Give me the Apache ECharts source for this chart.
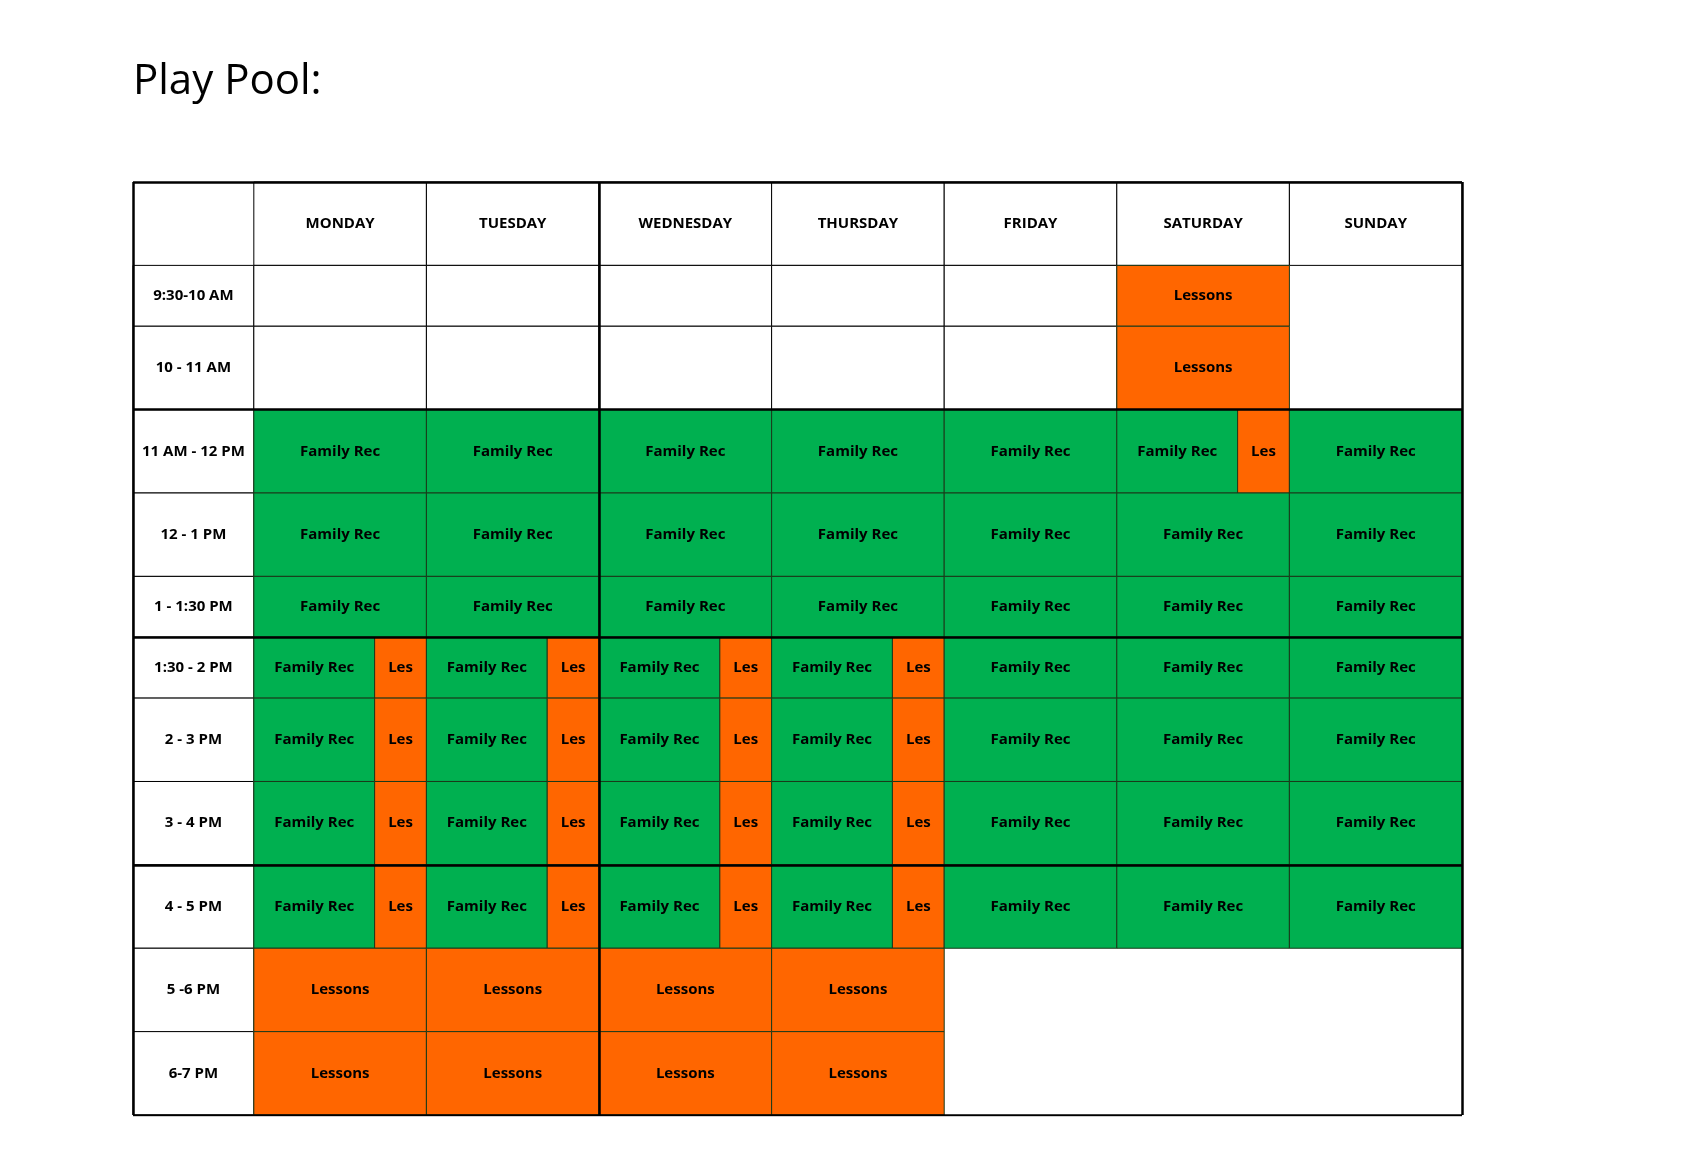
<!DOCTYPE html>
<html>
<head>
<meta charset="utf-8">
<script src="https://cdn.jsdelivr.net/npm/echarts@6/dist/echarts.min.js"></script>
<style>html,body{margin:0;background:#fff}#chart{width:1700px;height:1158px}</style>
</head>
<body>
<div id="chart"></div>
<script>
var days = ['MONDAY', 'TUESDAY', 'WEDNESDAY', 'THURSDAY', 'FRIDAY', 'SATURDAY', 'SUNDAY'];
var times = ['9:30-10 AM', '10 - 11 AM', '11 AM - 12 PM', '12 - 1 PM', '1 - 1:30 PM', '1:30 - 2 PM',
             '2 - 3 PM', '3 - 4 PM', '4 - 5 PM', '5 -6 PM', '6-7 PM'];
// E = empty cell, F = Family Rec, L = Lessons, FL = Family Rec + Les, '' = no cell
var monThu = ['E', 'E', 'F', 'F', 'F', 'FL', 'FL', 'FL', 'FL', 'L', 'L'];
var friday = ['E', 'E', 'F', 'F', 'F', 'F', 'F', 'F', 'F', '', ''];
var saturday = ['L', 'L', 'FL', 'F', 'F', 'F', 'F', 'F', 'F', '', ''];
var sunday = ['', '', 'F', 'F', 'F', 'F', 'F', 'F', 'F', '', ''];
var schedule = [monThu, monThu, monThu, monThu, friday, saturday, sunday];

// layout (axis units)
var colEdges = [0, 0.7];
for (var i = 1; i <= 7; i++) colEdges.push(0.7 + i);
var rowH = [1, 0.73, 0.73, 1, 1, 1, 0.73, 0.73, 1, 1, 1, 1, 1];
rowH = [1, 0.73, 1, 1, 1, 0.73, 0.73, 1, 1, 1, 1, 1];
var rowEdges = [0];
rowH.forEach(function (h) { rowEdges.push(rowEdges[rowEdges.length - 1] + h); });

var GREEN = '#00B050', ORANGE = '#FF6600';
var cells = [];
days.forEach(function (d, c) { cells.push([c + 1, 0, d, 'H']); });
times.forEach(function (t, r) { cells.push([0, r + 1, t, 'T']); });
schedule.forEach(function (col, c) {
  col.forEach(function (k, r) { if (k) cells.push([c + 1, r + 1, '', k]); });
});

function renderCell(params, api) {
  var c = api.value(0), r = api.value(1), kind = cells[params.dataIndex][3], label = cells[params.dataIndex][2];
  var p0 = api.coord([colEdges[c], rowEdges[r]]);
  var p1 = api.coord([colEdges[c + 1], rowEdges[r + 1]]);
  var x = p0[0], y = p0[1], w = p1[0] - p0[0], h = p1[1] - p0[1];
  var font = 'bold 15px "Open Sans", sans-serif';
  function box(bx, bw, fill, text) {
    return {
      type: 'rect', shape: { x: bx, y: y, width: bw, height: h },
      style: { fill: fill, stroke: '#000', lineWidth: 1, text: text, font: font, fill2: null,
               textFill: '#000' },
      textContent: { style: { text: text, font: font, fill: '#000' } },
      textConfig: { position: 'inside' }
    };
  }
  var children = [];
  if (kind === 'H' || kind === 'T') children.push(box(x, w, '#fff', label));
  else if (kind === 'E') children.push(box(x, w, '#fff', ''));
  else if (kind === 'F') children.push(box(x, w, GREEN, 'Family Rec'));
  else if (kind === 'L') children.push(box(x, w, ORANGE, 'Lessons'));
  else if (kind === 'FL') {
    var lw = w * 0.3;
    children.push(box(x, w - lw, GREEN, 'Family Rec'));
    children.push(box(x + w - lw, lw, ORANGE, 'Les'));
  }
  children.forEach(function (ch) { ch.style.text = null; });
  if (kind === 'F' || kind === 'L' || kind === 'FL') {
    children.forEach(function (ch) { ch.style.stroke = '#1a3a1a'; });
  }
  return { type: 'group', children: children };
}

// thick separators (row index of edge / column edge)
var thickRows = [3, 6, 9];
var thickCols = [3];
var lines = [];
thickRows.forEach(function (r) { lines.push([[colEdges[0], rowEdges[r]], [colEdges[8], rowEdges[r]]]); });
thickCols.forEach(function (c) { lines.push([[colEdges[c], rowEdges[0]], [colEdges[c], rowEdges[12]]]); });
lines.push([[colEdges[0], rowEdges[0]], [colEdges[8], rowEdges[0]]]);
lines.push([[colEdges[0], rowEdges[12]], [colEdges[8], rowEdges[12]]]);
lines.push([[colEdges[0], rowEdges[0]], [colEdges[0], rowEdges[12]]]);
lines.push([[colEdges[8], rowEdges[0]], [colEdges[8], rowEdges[12]]]);

var chart = echarts.init(document.getElementById('chart'));
chart.setOption({
  backgroundColor: '#fff',
  animation: false,
  title: { text: 'Play Pool:', left: 128, top: 56,
           textStyle: { fontFamily: 'Open Sans', fontWeight: 'normal', fontSize: 42, color: '#000' } },
  grid: { left: 133, top: 182, width: 1329, height: 933 },
  xAxis: { type: 'value', min: 0, max: colEdges[8], show: false },
  yAxis: { type: 'value', min: 0, max: rowEdges[12], inverse: true, show: false },
  series: [
    { type: 'custom', renderItem: renderCell, data: cells, clip: false },
    { type: 'lines', coordinateSystem: 'cartesian2d', polyline: false, data: lines.map(function (l) { return { coords: l }; }),
      lineStyle: { color: '#000', width: 2.5, opacity: 1 }, silent: true }
  ]
});
</script>
</body>
</html>
